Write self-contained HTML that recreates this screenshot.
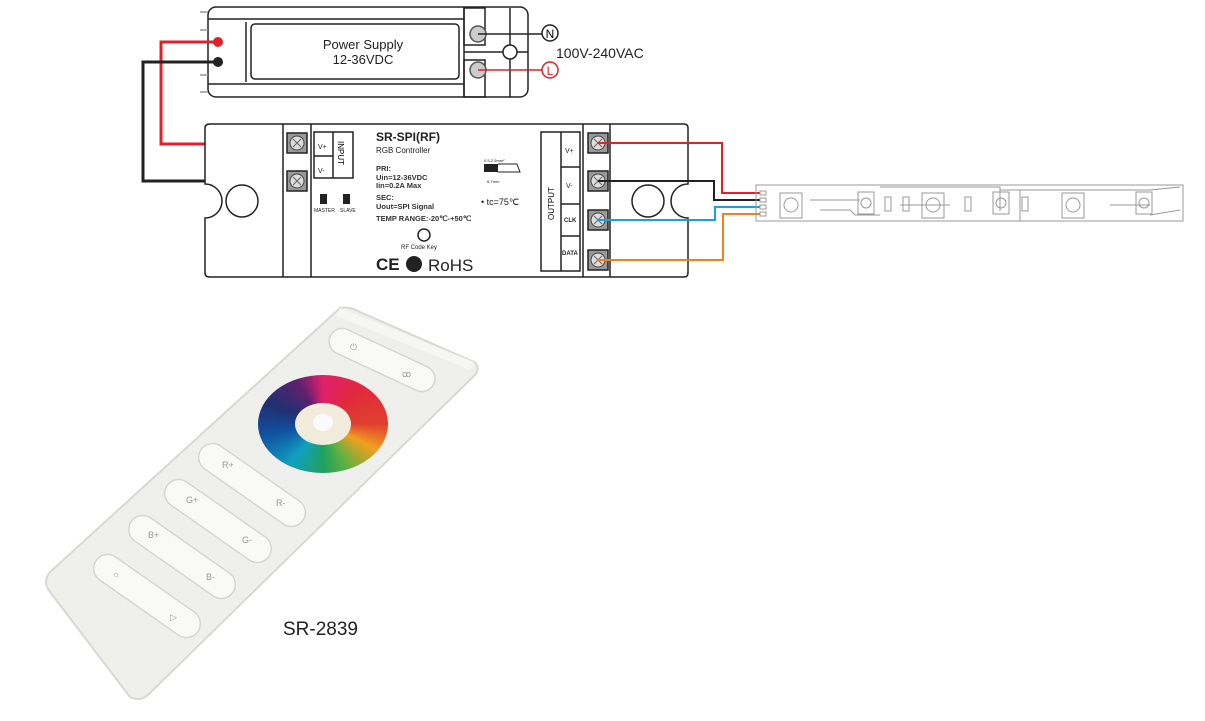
<!DOCTYPE html>
<html><head><meta charset="utf-8"><style>
html,body{margin:0;padding:0;background:#fff;}
#w{position:relative;width:1205px;height:721px;overflow:hidden;font-family:"Liberation Sans",sans-serif;}
svg{position:absolute;left:0;top:0}
.wheel{position:absolute;left:258px;top:375px;width:130px;height:98px;border-radius:50%;
background:conic-gradient(from 0deg,#e0206a,#e02a3a 50deg,#e04030 90deg,#f0a020 115deg,#60b040 150deg,#20a060 180deg,#10a0c0 220deg,#1050a0 260deg,#203070 290deg,#602070 330deg,#e0206a);}
.inner{position:absolute;left:295px;top:403px;width:56px;height:42px;border-radius:50%;background:#f2ecdc;}
.dot{position:absolute;left:313px;top:414px;width:20px;height:17px;border-radius:50%;background:#fafafa;}
</style></head><body><div id="w">
<svg width="1205" height="721" viewBox="0 0 1205 721">
<!-- remote -->
<path d="M340,308 Q350,306 360,312 L474,362 Q480,366 476,374 L148,695 Q140,702 130,697 L50,592 Q42,582 50,572 Z" fill="#efefed" stroke="#d8d8d4" stroke-width="2"/>
<path d="M340,308 L474,362 L470,370 L336,316 Z" fill="#f6f6f4"/>
<g fill="#f9f9f8" stroke="#d6d6d2" stroke-width="1.5">
<rect x="-57" y="-13" width="114" height="26" rx="13" transform="translate(382,360) rotate(25)"/>
<rect x="-62" y="-14" width="124" height="28" rx="14" transform="translate(252,485) rotate(35)"/>
<rect x="-62" y="-14" width="124" height="28" rx="14" transform="translate(218,521) rotate(35)"/>
<rect x="-62" y="-14" width="124" height="28" rx="14" transform="translate(182,557) rotate(35)"/>
<rect x="-62" y="-14" width="124" height="28" rx="14" transform="translate(147,596) rotate(35)"/>
</g>
<g font-size="9" fill="#999">
<text x="222" y="468">R+</text><text x="276" y="506">R-</text>
<text x="186" y="503">G+</text><text x="242" y="543">G-</text>
<text x="148" y="538">B+</text><text x="206" y="580">B-</text>
<text x="350" y="350">⏻</text><text x="402" y="377">ꝏ</text>
<text x="112" y="577">☼</text><text x="170" y="620">▷</text>
</g>
<text x="283" y="635" font-size="19" fill="#222">SR-2839</text>

<!-- power supply -->
<g fill="none" stroke="#222" stroke-width="1.5">
<rect x="208" y="7" width="320" height="90" rx="8" fill="#fff"/>
<line x1="208" y1="19" x2="464" y2="19"/><line x1="208" y1="84" x2="464" y2="84"/>
<line x1="246" y1="22" x2="246" y2="82"/>
<rect x="251" y="24" width="208" height="55" rx="4"/>
<rect x="464" y="8" width="21" height="37"/><rect x="464" y="60" width="21" height="37"/>
<line x1="464" y1="8" x2="464" y2="97"/><line x1="510" y1="8" x2="510" y2="97"/>
<line x1="464" y1="52" x2="528" y2="52"/>
<circle cx="510" cy="52" r="7" fill="#fff"/>
<circle cx="478" cy="34" r="8" fill="#ccc" stroke="#555"/><circle cx="478" cy="70" r="8" fill="#ccc" stroke="#555"/>
<path d="M200,12 L208,12 M200,30 L208,30 M200,75 L208,75 M200,92 L208,92" stroke="#999"/>
</g>
<text x="363" y="49" font-size="13" text-anchor="middle" fill="#222">Power Supply</text>
<text x="363" y="64" font-size="13" text-anchor="middle" fill="#222">12-36VDC</text>
<line x1="478" y1="34" x2="542" y2="34" stroke="#222" stroke-width="1.5"/>
<line x1="478" y1="70" x2="542" y2="70" stroke="#e0202a" stroke-width="1.5"/>
<circle cx="550" cy="33" r="8" fill="#fff" stroke="#222" stroke-width="1.5"/>
<text x="550" y="38" font-size="12" text-anchor="middle">N</text>
<circle cx="550" cy="70" r="8" fill="#fff" stroke="#e0202a" stroke-width="1.5"/>
<text x="550" y="75" font-size="12" text-anchor="middle" fill="#e0202a">L</text>
<text x="556" y="58" font-size="14" fill="#222">100V-240VAC</text>

<!-- input wires -->
<path d="M218,42 H161 V144 H297" fill="none" stroke="#e0202a" stroke-width="3"/>
<path d="M218,62 H143 V181 H297" fill="none" stroke="#222" stroke-width="3"/>
<circle cx="218" cy="42" r="5" fill="#e0202a"/><circle cx="218" cy="62" r="5" fill="#222"/>

<!-- controller -->
<g fill="none" stroke="#222" stroke-width="1.5">
<path d="M210,124 H684 Q688,124 688,128 V184 A17,17 0 0 0 688,218 V273 Q688,277 684,277 H210 Q205,277 205,273 V218 A17,17 0 0 0 205,184 V128 Q205,124 210,124 Z" fill="#fff"/>
<line x1="283" y1="124" x2="283" y2="277"/><line x1="311" y1="124" x2="311" y2="277"/>
<line x1="583" y1="124" x2="583" y2="277"/><line x1="610" y1="124" x2="610" y2="277"/>
<circle cx="242" cy="201" r="16"/><circle cx="648" cy="201" r="16"/>
<rect x="314" y="132" width="39" height="46"/><line x1="333" y1="132" x2="333" y2="178"/><line x1="314" y1="156" x2="333" y2="156"/>
<rect x="541" y="132" width="39" height="139"/><line x1="561" y1="132" x2="561" y2="271"/>
<line x1="561" y1="167" x2="580" y2="167"/><line x1="561" y1="204" x2="580" y2="204"/><line x1="561" y1="236" x2="580" y2="236"/>
<circle cx="424" cy="235" r="6"/>
</g>
<g fill="#999" stroke="#222" stroke-width="1.5">
<rect x="287" y="133" width="20" height="20"/><rect x="287" y="171" width="20" height="20"/>
<rect x="588" y="133" width="20" height="20"/><rect x="588" y="171" width="20" height="20"/>
<rect x="588" y="210" width="20" height="20"/><rect x="588" y="250" width="20" height="20"/>
</g>
<g fill="#ddd" stroke="#444"><circle cx="297" cy="143" r="7"/><circle cx="297" cy="181" r="7"/><circle cx="598" cy="143" r="7"/><circle cx="598" cy="181" r="7"/><circle cx="598" cy="220" r="7"/><circle cx="598" cy="260" r="7"/></g>
<g stroke="#666" stroke-width="1"><path d="M293,139l8,8M301,139l-8,8M293,177l8,8M301,177l-8,8M594,139l8,8M602,139l-8,8M594,177l8,8M602,177l-8,8M594,216l8,8M602,216l-8,8M594,256l8,8M602,256l-8,8"/></g>
<rect x="320" y="194" width="7" height="10" fill="#222"/><rect x="343" y="194" width="7" height="10" fill="#222"/>
<g font-size="7" fill="#222"><text x="318" y="149">V+</text><text x="318" y="173">V-</text><text x="314" y="212" font-size="5">MASTER</text><text x="340" y="212" font-size="5">SLAVE</text>
<text x="565" y="153">V+</text><text x="566" y="188">V-</text><text x="564" y="222" font-size="6" font-weight="bold">CLK</text><text x="562" y="255" font-size="6" font-weight="bold">DATA</text></g>
<text x="338" y="141" font-size="8" transform="rotate(90 338 141)">INPUT</text>
<text x="554" y="220" font-size="8" transform="rotate(-90 554 220)">OUTPUT</text>
<g fill="#222"><text x="376" y="141" font-size="12" font-weight="bold">SR-SPI(RF)</text>
<text x="376" y="153" font-size="8">RGB Controller</text>
<g font-size="7.5" font-weight="bold" fill="#333"><text x="376" y="171">PRI:</text><text x="376" y="180">Uin=12-36VDC</text><text x="376" y="188">Iin=0.2A Max</text>
<text x="376" y="200">SEC:</text><text x="376" y="209">Uout=SPI Signal</text><text x="376" y="221">TEMP RANGE:-20℃-+50℃</text></g>
<text x="401" y="249" font-size="6">RF Code  Key</text>
<text x="481" y="205" font-size="9">• tc=75℃</text>
<text x="376" y="270" font-size="17" font-weight="bold">CE</text><circle cx="414" cy="264" r="8"/>
<text x="428" y="271" font-size="17">RoHS</text>
<text x="484" y="162" font-size="4">0.5-2.5mm²</text><rect x="484" y="164" width="14" height="8"/><text x="487" y="183" font-size="4">6-7mm</text></g>
<path d="M498,164 H517 L520,172 H498" fill="none" stroke="#222"/>

<!-- output wires -->
<path d="M598,143 H722 V193 H760" fill="none" stroke="#e0202a" stroke-width="2"/>
<path d="M598,181 H714 V200 H760" fill="none" stroke="#222" stroke-width="2"/>
<path d="M598,220 H715 V207 H760" fill="none" stroke="#1aa0e0" stroke-width="2"/>
<path d="M598,260 H723 V214 H760" fill="none" stroke="#f08020" stroke-width="2"/>

<!-- strip -->
<g fill="none" stroke="#999" stroke-width="1">
<rect x="756" y="185" width="427" height="36"/>
<path d="M880,187 H1000 V211 M1000,190 H1150 L1180,187 M900,205 H950 M1020,190 V221 M1110,205 H1150 M1150,215 L1180,210 M810,200 H860 M820,210 H850 L855,215 H880"/>
<rect x="780" y="193" width="22" height="25"/><rect x="922" y="193" width="22" height="25"/><rect x="1062" y="193" width="22" height="25"/>
<rect x="858" y="192" width="16" height="22"/><rect x="993" y="192" width="16" height="22"/><rect x="1136" y="192" width="16" height="22"/>
<rect x="885" y="197" width="6" height="14"/><rect x="903" y="197" width="6" height="14"/><rect x="965" y="197" width="6" height="14"/><rect x="1022" y="197" width="6" height="14"/>
<circle cx="791" cy="205" r="7"/><circle cx="933" cy="205" r="7"/><circle cx="1073" cy="205" r="7"/>
<circle cx="866" cy="203" r="5"/><circle cx="1001" cy="203" r="5"/><circle cx="1144" cy="203" r="5"/>
<rect x="760" y="191" width="6" height="4"/><rect x="760" y="198" width="6" height="4"/><rect x="760" y="205" width="6" height="4"/><rect x="760" y="212" width="6" height="4"/>
</g>
</svg>
<div class="wheel"></div><div class="inner"></div><div class="dot"></div>
</div></body></html>
